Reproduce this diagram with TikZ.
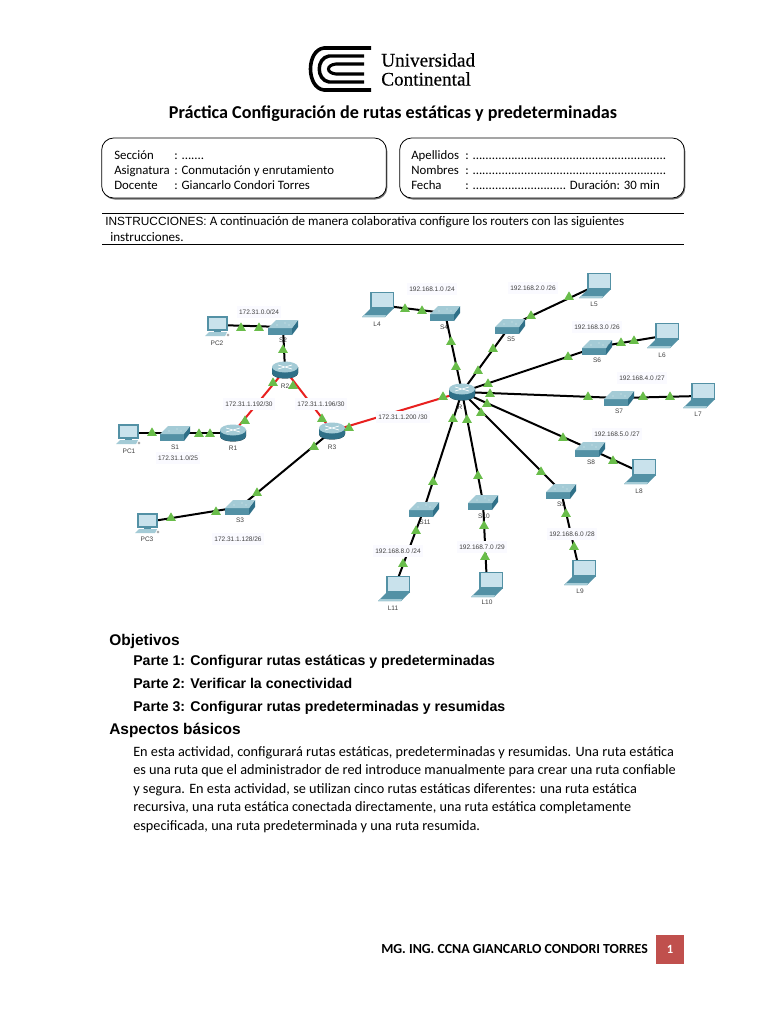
\documentclass[tikz,border=0pt]{standalone}
\usepackage{fontspec}
\usepackage{tikz}
\usetikzlibrary{shapes.geometric}
\setmainfont{Carlito}
\newfontfamily\arialfont{Liberation Sans}
\newfontfamily\logofont[FakeBold=0.3]{Liberation Serif}
\definecolor{cisco}{HTML}{5391A5}
\definecolor{ciscodark}{HTML}{2F7088}
\definecolor{ciscolight}{HTML}{A4CBD6}
\definecolor{screenblue}{HTML}{C9E2EC}
\definecolor{litgreen}{HTML}{69BD4A}
\definecolor{linkred}{HTML}{E8201F}
\definecolor{pagered}{HTML}{C0504D}
\tikzset{
  pics/switchbox/.style={code={
    \fill[cisco] (-15,1) rectangle (9,8);
    \fill[ciscodark] (9,1) -- (15,-7) -- (15,0) -- (9,8) -- cycle;
    \fill[ciscolight] (-15,1) -- (-7,-7) -- (15,-7) -- (9,1) -- cycle;
    \fill[white,opacity=.6] (-6,-2) circle (.6) (2,-4) circle (.6) (6,-2) circle (.6);
  }},
  pics/routerbox/.style={code={
    \fill[left color=ciscodark,middle color=ciscolight,right color=ciscodark] (-13,-3) -- (-13,3) .. controls (-13,10.3) and (13,10.3) .. (13,3) -- (13,-3) -- cycle;
    \fill[ciscolight] (0,-3) ellipse (13 and 5.5);
    \draw[white,line width=.5pt] (-7,-5) -- (7,-1) (-7,-1) -- (7,-5);
  }},
  pics/laptopbox/.style={code={
    \fill[cisco] (-16,12) -- (7,12) -- (16,3) -- (-7,3) -- cycle;
    \fill[ciscolight] (-16,12) -- (7,12) -- (8,10) -- (-14,10) -- cycle;
    \draw[cisco,line width=1.4pt,fill=screenblue] (-7,-12.5) rectangle (15.5,3);
  }},
  pics/pcbox/.style={code={
    \draw[cisco,line width=1.4pt,fill=screenblue] (-9,-8) rectangle (10,5);
    \fill[cisco] (-3,5) rectangle (4,7);
    \fill[ciscolight] (-12,11) -- (8,11) -- (10,7) -- (-8,7) -- cycle;
    \draw[gray,line width=.3pt] (11,10) circle (1.2);
  }}
}
\begin{document}
\begin{tikzpicture}[x=0.75pt,y=-0.75pt,
  wire/.style={line width=1.5pt,black},
  redwire/.style={line width=1.5pt,linkred},
  lit/.style={regular polygon,regular polygon sides=3,fill=litgreen,inner sep=0pt,minimum size=8.5pt},
  iplabel/.style={font=\arialfont\fontsize{4.9}{6}\selectfont,text=black!75,fill=blue!2,inner xsep=1.5pt,inner ysep=2.5pt},
  devlabel/.style={font=\arialfont\fontsize{4.9}{6}\selectfont,text=black!75,inner sep=0pt},
  infobox/.style={draw=black,rounded corners=9pt,fill=white,line width=.6pt,minimum width=213.5pt,minimum height=45pt,inner sep=0pt},
  infoshadow/.style={fill=black!55,rounded corners=9pt,minimum width=213.5pt,minimum height=45pt,inner sep=0pt},
  infotext/.style={anchor=base west,font=\fontsize{9.6}{11}\selectfont,inner sep=0pt},
  headtext/.style={anchor=base west,font=\arialfont\bfseries\fontsize{10.6}{12}\selectfont,inner sep=0pt},
  bighead/.style={anchor=base west,font=\arialfont\bfseries\fontsize{11.6}{13}\selectfont,inner sep=0pt}]
\fill[white] (0,0) rectangle (768,1024);
\useasboundingbox (0,0) rectangle (768,1024);

% logo
\draw[line width=2.7pt] (371,48) -- (324,48) .. controls (306,50) and (306,88) .. (324,90) -- (371,90);
\draw[line width=2.6pt] (364,56) -- (329,56) .. controls (316,58) and (316,80) .. (329,82) -- (364,82);
\draw[line width=2.3pt] (364,64) -- (336,64) .. controls (326,65) and (326,73) .. (336,74) -- (364,74);
\node[anchor=west,inner sep=0pt,font=\logofont\fontsize{14.4}{16}\selectfont] (unilogo1) at (381,60) {Universidad};
\node[anchor=west,inner sep=0pt,font=\logofont\fontsize{14.4}{16}\selectfont] (unilogo2) at (381,79) {Continental};

% title and boxes
\node[font=\bfseries\fontsize{13.6}{15}\selectfont] (title) at (393,114) {Práctica Configuración de rutas estáticas y predeterminadas};
\node[infoshadow] (secshadow) at (245,169.5) {};
\node[infoshadow] (apeshadow) at (543,169.5) {};
\node[infobox] (secbox) at (244,168) {};
\node[infobox] (apebox) at (542,168) {};
\node[infotext] (sec1) at (114,159.5) {Sección};
\node[infotext] (sec2) at (114,174.5) {Asignatura};
\node[infotext] (sec3) at (114,189) {Docente};
\node[infotext] (sec4) at (174,159.5) {: .......};
\node[infotext] (sec5) at (174,174.5) {: Conmutación y enrutamiento};
\node[infotext] (sec6) at (174,189) {: Giancarlo Condori Torres};
\node[infotext] (ape1) at (411,159.5) {Apellidos};
\node[infotext] (ape2) at (411,174.5) {Nombres};
\node[infotext] (ape3) at (411,189) {Fecha};
\node[infotext] (ape4) at (465,159.5) {: ............................................................};
\node[infotext] (ape5) at (465,174.5) {: ............................................................};
\node[infotext] (ape6) at (465,189) {: ............................. Duración: 30 min};
\draw[line width=.7pt] (102,213) -- (684,213);
\draw[line width=.7pt] (102,244) -- (684,244);
\node[anchor=base west,inner sep=0pt,font=\fontsize{9.8}{11}\selectfont] (instr1) at (105,225) {{\arialfont\fontsize{8.9}{11}\selectfont INSTRUCCIONES:} A continuación de manera colaborativa configure los routers con las siguientes};
\node[anchor=base west,inner sep=0pt,font=\fontsize{9.8}{11}\selectfont] (instr2) at (110,241) {instrucciones.};

% device positions
\coordinate (PC1) at (128,433);
\coordinate (PC2) at (217,325);
\coordinate (PC3) at (147,522);
\coordinate (S1) at (175,433);
\coordinate (S2) at (283,327);
\coordinate (S3) at (240,507);
\coordinate (R1) at (233,433);
\coordinate (R2) at (285,370);
\coordinate (R3) at (332,431);
\coordinate (R) at (462,392);
\coordinate (S4) at (445,313);
\coordinate (S5) at (510,326);
\coordinate (S6) at (597,347);
\coordinate (S7) at (619,398);
\coordinate (S8) at (590,449);
\coordinate (S9) at (561,491);
\coordinate (S10) at (483,502);
\coordinate (S11) at (424,509);
\coordinate (L4) at (378,305);
\coordinate (L5) at (595,286);
\coordinate (L6) at (663,336);
\coordinate (L7) at (699,396);
\coordinate (L8) at (640,472);
\coordinate (L9) at (580,573);
\coordinate (L10) at (487,585);
\coordinate (L11) at (394,589);

% device names
\node[devlabel] (nPC1) at (129,451) {PC1};
\node[devlabel] (nPC2) at (217,343) {PC2};
\node[devlabel] (nPC3) at (147,539) {PC3};
\node[devlabel] (nS1) at (175,447) {S1};
\node[devlabel] (nS2) at (283,340) {S2};
\node[devlabel] (nS3) at (240,520) {S3};
\node[devlabel] (nR1) at (233,448) {R1};
\node[devlabel] (nR2) at (285,386) {R2};
\node[devlabel] (nR3) at (332,447) {R3};
\node[devlabel] (nR) at (460,407) {R};
\node[devlabel] (nS4) at (444,327) {S4};
\node[devlabel] (nS5) at (511,339) {S5};
\node[devlabel] (nS6) at (597,360) {S6};
\node[devlabel] (nS7) at (619,411) {S7};
\node[devlabel] (nS8) at (591,462) {S8};
\node[devlabel] (nS9) at (561,504) {S9};
\node[devlabel] (nS10) at (484,516) {S10};
\node[devlabel] (nS11) at (425,522) {S11};
\node[devlabel] (nL4) at (377,324) {L4};
\node[devlabel] (nL5) at (594,304) {L5};
\node[devlabel] (nL6) at (662,355) {L6};
\node[devlabel] (nL7) at (698,414) {L7};
\node[devlabel] (nL8) at (639,491) {L8};
\node[devlabel] (nL9) at (580,591) {L9};
\node[devlabel] (nL10) at (487,602) {L10};
\node[devlabel] (nL11) at (393,608) {L11};

% connectors
\draw[wire] (PC1) -- (S1);
\draw[wire] (S1) -- (R1);
\draw[wire] (PC2) -- (S2);
\draw[wire] (S2) -- (R2);
\draw[wire] (R3) -- (S3);
\draw[wire] (S3) -- (PC3);
\draw[redwire] (R2) -- (R1);
\draw[redwire] (R2) -- (R3);
\draw[redwire] (R3) -- (R);
\draw[wire] (L4) -- (S4);
\draw[wire] (S4) -- (R);
\draw[wire] (R) -- (S5);
\draw[wire] (S5) -- (L5);
\draw[wire] (R) -- (S6);
\draw[wire] (S6) -- (L6);
\draw[wire] (R) -- (S7);
\draw[wire] (S7) -- (L7);
\draw[wire] (R) -- (S8);
\draw[wire] (S8) -- (L8);
\draw[wire] (R) -- (S9);
\draw[wire] (S9) -- (L9);
\draw[wire] (R) -- (S10);
\draw[wire] (S10) -- (L10);
\draw[wire] (R) -- (S11);
\draw[wire] (S11) -- (L11);

% devices
\pic at (PC1) {pcbox};
\pic at (PC2) {pcbox};
\pic at (PC3) {pcbox};
\pic at (S1) {switchbox};
\pic at (S2) {switchbox};
\pic at (S3) {switchbox};
\pic at (R1) {routerbox};
\pic at (R2) {routerbox};
\pic at (R3) {routerbox};
\pic at (R) {routerbox};
\pic at (S4) {switchbox};
\pic at (S5) {switchbox};
\pic at (S6) {switchbox};
\pic at (S7) {switchbox};
\pic at (S8) {switchbox};
\pic at (S9) {switchbox};
\pic at (S10) {switchbox};
\pic at (S11) {switchbox};
\pic at (L4) {laptopbox};
\pic at (L5) {laptopbox};
\pic at (L6) {laptopbox};
\pic at (L7) {laptopbox};
\pic at (L8) {laptopbox};
\pic at (L9) {laptopbox};
\pic at (L10) {laptopbox};
\pic at (L11) {laptopbox};

% network labels
\node[iplabel] (net1) at (259,312) {172.31.0.0/24};
\node[iplabel] (net2) at (249,404) {172.31.1.192/30};
\node[iplabel] (net3) at (321,404) {172.31.1.196/30};
\node[iplabel] (net4) at (178,458) {172.31.1.0/25};
\node[iplabel] (net5) at (238,539) {172.31.1.128/26};
\node[iplabel] (net6) at (403,417) {172.31.1.200 /30};
\node[iplabel] (net7) at (432,289) {192.168.1.0 /24};
\node[iplabel] (net8) at (533,288) {192.168.2.0 /26};
\node[iplabel] (net9) at (597,327) {192.168.3.0 /26};
\node[iplabel] (net10) at (642,378) {192.168.4.0 /27};
\node[iplabel] (net11) at (617,434) {192.168.5.0 /27};
\node[iplabel] (net12) at (572,534) {192.168.6.0 /28};
\node[iplabel] (net13) at (482,547) {192.168.7.0 /29};
\node[iplabel] (net14) at (398,551) {192.168.8.0 /24};

% link lights
\node[lit] (t1) at (152,433) {}; \node[lit] (t2) at (199,434) {}; \node[lit] (t3) at (210,434) {};
\node[lit] (t4) at (241,328) {}; \node[lit] (t5) at (259,328) {}; \node[lit] (t6) at (283,350) {};
\node[lit] (t7) at (273,383) {}; \node[lit] (t8) at (245,421) {};
\node[lit] (t9) at (293,386) {}; \node[lit] (t10) at (322,419) {};
\node[lit] (t11) at (349,428) {}; \node[lit] (t12) at (443,397) {};
\node[lit] (t13) at (314,447) {}; \node[lit] (t14) at (257,493) {};
\node[lit] (t15) at (216,512) {}; \node[lit] (t16) at (171,518) {};
\node[lit] (t17) at (405,309) {}; \node[lit] (t18) at (422,311) {};
\node[lit] (t19) at (451,342) {}; \node[lit] (t20) at (456,367) {};
\node[lit] (t21) at (493,349) {}; \node[lit] (t22) at (478,371) {};
\node[lit] (t23) at (531,316) {}; \node[lit] (t24) at (569,297) {};
\node[lit] (t25) at (488,384) {}; \node[lit] (t26) at (568,357) {};
\node[lit] (t27) at (621,343) {}; \node[lit] (t28) at (634,341) {};
\node[lit] (t29) at (490,394) {}; \node[lit] (t30) at (588,397) {};
\node[lit] (t31) at (643,397) {}; \node[lit] (t32) at (670,397) {};
\node[lit] (t33) at (487,404) {}; \node[lit] (t34) at (563,438) {};
\node[lit] (t35) at (613,461) {};
\node[lit] (t36) at (481,413) {}; \node[lit] (t37) at (541,472) {};
\node[lit] (t38) at (566,514) {}; \node[lit] (t39) at (574,547) {};
\node[lit] (t40) at (467,420) {}; \node[lit] (t41) at (478,476) {};
\node[lit] (t42) at (484,526) {}; \node[lit] (t43) at (485,557) {};
\node[lit] (t44) at (453,419) {}; \node[lit] (t45) at (433,482) {};
\node[lit] (t46) at (416,531) {}; \node[lit] (t47) at (403,564) {};

% text below
\node[bighead] (obj) at (109,645) {Objetivos};
\node[headtext] (parte1) at (133,665) {Parte 1: Configurar rutas estáticas y predeterminadas};
\node[headtext] (parte2) at (133,688) {Parte 2: Verificar la conectividad};
\node[headtext] (parte3) at (133,711) {Parte 3: Configurar rutas predeterminadas y resumidas};
\node[bighead] (asp) at (109,734) {Aspectos básicos};
\node[anchor=north west,inner sep=0pt,align=left,font=\fontsize{10.7}{13.9}\selectfont] (parrafo) at (133,746) {En esta actividad, configurará rutas estáticas, predeterminadas y resumidas. Una ruta estática\\
es una ruta que el administrador de red introduce manualmente para crear una ruta confiable\\
y segura. En esta actividad, se utilizan cinco rutas estáticas diferentes: una ruta estática\\
recursiva, una ruta estática conectada directamente, una ruta estática completamente\\
especificada, una ruta predeterminada y una ruta resumida.};

% footer
\node[anchor=west,inner sep=0pt,font=\bfseries\fontsize{10.4}{12}\selectfont] (pie) at (381,949) {MG. ING. CCNA GIANCARLO CONDORI TORRES};
\node[fill=pagered,text=white,font=\bfseries\fontsize{9.4}{11}\selectfont,minimum width=21pt,minimum height=22pt,inner sep=0pt] (pagina) at (670,949.5) {1};
\end{tikzpicture}
\end{document}
